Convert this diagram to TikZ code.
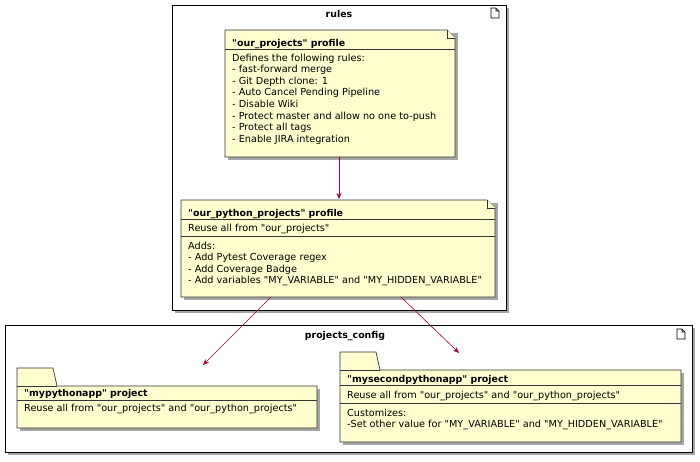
\documentclass[tikz,border=0pt]{standalone}
\usepackage{fontspec}
\setmainfont{DejaVu Sans}[Ligatures=TeXOff]
\usetikzlibrary{arrows.meta}
\definecolor{nfill}{HTML}{FEFECE}
\definecolor{arr}{HTML}{A80036}
\definecolor{bord}{HTML}{333333}
\tikzset{
 x=1pt,y=-1pt,
 frame/.style={draw=black,line width=0.9pt,fill=white},
 shp/.style={draw=bord,line width=0.7pt,fill=nfill},
 shadow/.style={fill=black!35},
 txt/.style={anchor=base west,inner sep=0pt,font=\fontsize{9.7}{11}\selectfont},
 hdr/.style={txt,font=\fontsize{9.4}{11}\selectfont\bfseries},
 ttl/.style={anchor=base,inner sep=0pt,font=\fontsize{9.4}{11}\selectfont\bfseries},
 con/.style={draw=arr,line width=0.6pt,-{Stealth[length=6pt,width=5pt]}}
}
\newcommand{\docicon}[2]{\draw[line width=0.6pt] (#1-4,#2-5) -- (#1+1,#2-5) -- (#1+4,#2-2) -- (#1+4,#2+5) -- (#1-4,#2+5) -- cycle (#1+1,#2-5) -- (#1+1,#2-2) -- (#1+4,#2-2);}
\begin{document}
\begin{tikzpicture}
\useasboundingbox (0,0) rectangle (700,461);
% rules frame
\fill[shadow] (175,8) rectangle (509,313);
\draw[frame] (172,5) rectangle (506,310);
\node[ttl] (rt) at (339,17) {rules};
\docicon{495}{13}
% note1
\fill[shadow] (228,33) rectangle (458,160);
\draw[shp] (225,30) -- (447,30) -- (455,38) -- (455,157) -- (225,157) -- cycle;
\draw[shp] (447,30) -- (447,38) -- (455,38);
\draw[bord,line width=0.6pt] (225,49) -- (455,49);
\node[hdr] (n1h) at (232,46) {"our\_projects" profile};
\node[txt] (n1a) at (232,61) {Defines the following rules:};
\node[txt] at (232,72.6) {- fast-forward merge};
\node[txt] at (232,84.2) {- Git Depth clone: 1};
\node[txt] at (232,95.8) {- Auto Cancel Pending Pipeline};
\node[txt] at (232,107.4) {- Disable Wiki};
\node[txt] at (232,119) {- Protect master and allow no one to-push};
\node[txt] at (232,130.6) {- Protect all tags};
\node[txt] at (232,142.2) {- Enable JIRA integration};
\coordinate (n1b) at (339,157);
% note2
\fill[shadow] (184,203) rectangle (498,300);
\draw[shp] (181,200) -- (487,200) -- (495,208) -- (495,297) -- (181,297) -- cycle;
\draw[shp] (487,200) -- (487,208) -- (495,208);
\draw[bord,line width=0.6pt] (181,219) -- (495,219);
\draw[bord,line width=0.6pt] (181,236) -- (495,236);
\node[hdr] at (188,216) {"our\_python\_projects" profile};
\node[txt] at (188,231) {Reuse all from "our\_projects"};
\node[txt] at (188,249) {Adds:};
\node[txt] at (188,260.6) {- Add Pytest Coverage regex};
\node[txt] at (188,272.2) {- Add Coverage Badge};
\node[txt] at (188,283.8) {- Add variables "MY\_VARIABLE" and "MY\_HIDDEN\_VARIABLE"};
\coordinate (n2t) at (339,199);
\coordinate (n2l) at (271,297);
\coordinate (n2r) at (401,297);
% projects_config frame
\fill[shadow] (8,328) rectangle (695,455);
\draw[frame] (5,325) rectangle (692,452);
\node[ttl] (pt) at (345,338) {projects\_config};
\docicon{681}{334}
% folder1
\fill[shadow] (20,389) rectangle (320,431);
\draw[shp] (17,368) -- (53,368) -- (57,386) -- (317,386) -- (317,428) -- (17,428) -- cycle;
\draw[shp] (17,386) -- (57,386);
\draw[bord,line width=0.6pt] (17,400) -- (317,400);
\node[hdr] at (24,396.5) {"mypythonapp" project};
\node[txt] at (24,411.5) {Reuse all from "our\_projects" and "our\_python\_projects"};
\coordinate (f1t) at (203,365);
% folder2
\fill[shadow] (343,373) rectangle (684,445);
\draw[shp] (340,352) -- (376,352) -- (380,370) -- (681,370) -- (681,442) -- (340,442) -- cycle;
\draw[shp] (340,370) -- (380,370);
\draw[bord,line width=0.6pt] (340,385) -- (681,385);
\draw[bord,line width=0.6pt] (340,403) -- (681,403);
\node[hdr] at (347,382) {"mysecondpythonapp" project};
\node[txt] at (347,398.5) {Reuse all from "our\_projects" and "our\_python\_projects"};
\node[txt] at (347,416) {Customizes:};
\node[txt] at (347,427.6) {-Set other value for "MY\_VARIABLE" and "MY\_HIDDEN\_VARIABLE"};
\coordinate (f2t) at (459,353);
% connectors
\draw[con] (n1b) -- (n2t);
\draw[con] (n2l) -- (f1t);
\draw[con] (n2r) -- (f2t);
\end{tikzpicture}
\end{document}
